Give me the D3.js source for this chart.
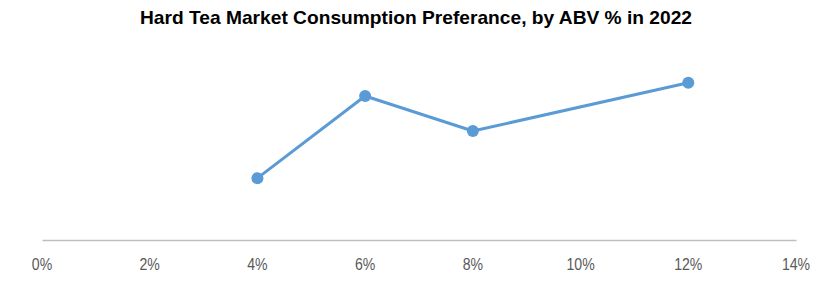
<!DOCTYPE html>
<html>
<head>
<meta charset="utf-8">
<script src="https://cdn.jsdelivr.net/npm/d3@7"></script>
<style>
  body { margin: 0; background: #fff; }
  text { font-family: "Liberation Sans Narrow", "Arial Narrow", "Liberation Sans", sans-serif; }
</style>
</head>
<body>
<svg id="chart" width="835" height="285"></svg>
<script>
// ABV share values
const abv = [4, 6, 8, 12];
const share = [13.1, 30.5, 23.1, 33.3];
const xTicks = [0, 2, 4, 6, 8, 10, 12, 14];

const svg = d3.select("#chart"),
  margin = {top: 40, left: 42, bottom: 45, right: 39},
  width = +svg.attr("width") - margin.left - margin.right,
  height = +svg.attr("height") - margin.top - margin.bottom;

// title squeezed a little to look like the narrow original face
svg.append("text")
  .attr("x", 416)
  .attr("y", 24)
  .attr("text-anchor", "middle")
  .attr("textLength", 552)
  .attr("lengthAdjust", "spacingAndGlyphs")
  .style("font-weight", "bold")
  .style("font-size", "19px")
  .attr("fill", "#000")
  .text("Hard Tea Market Consumption Preferance, by ABV % in 2022");

const g = svg.append("g")
  .attr("transform", "translate(" + margin.left + "," + margin.top + ")");

const x = d3.scaleLinear().domain([0, 14]).range([0, width]);
const y = d3.scaleLinear().domain([0, 40]).range([height, height - 40 * 4.72]);

const xAxis = g.append("g")
  .attr("transform", "translate(0," + height + ")")
  .call(d3.axisBottom(x).tickValues(xTicks).tickSize(0).tickPadding(19)
    .tickFormat(d => d + "%"));
xAxis.select(".domain").attr("stroke", "#bfbfbf").attr("stroke-width", 1.3);
xAxis.selectAll("text").attr("fill", "#595959").style("font-size", "16px")
  .attr("transform", "scale(0.88,1)")
  .attr("x", function(d) { return 0; });
// keep labels centred under their ticks after narrowing
xAxis.selectAll(".tick").each(function(d) {
  d3.select(this).attr("transform", "translate(" + x(d) + ",0)");
});

const data = abv.map((d, i) => ({x: d, y: share[i]}));

g.append("path")
  .datum(data)
  .attr("fill", "none")
  .attr("stroke", "#5b9bd5")
  .attr("stroke-width", 3)
  .attr("stroke-linejoin", "round")
  .attr("d", d3.line().x(d => x(d.x)).y(d => y(d.y)));

g.selectAll("circle").data(data)
  .enter().append("circle")
  .attr("cx", d => x(d.x))
  .attr("cy", d => y(d.y))
  .attr("r", 6)
  .attr("fill", "#5b9bd5");
</script>
</body>
</html>
